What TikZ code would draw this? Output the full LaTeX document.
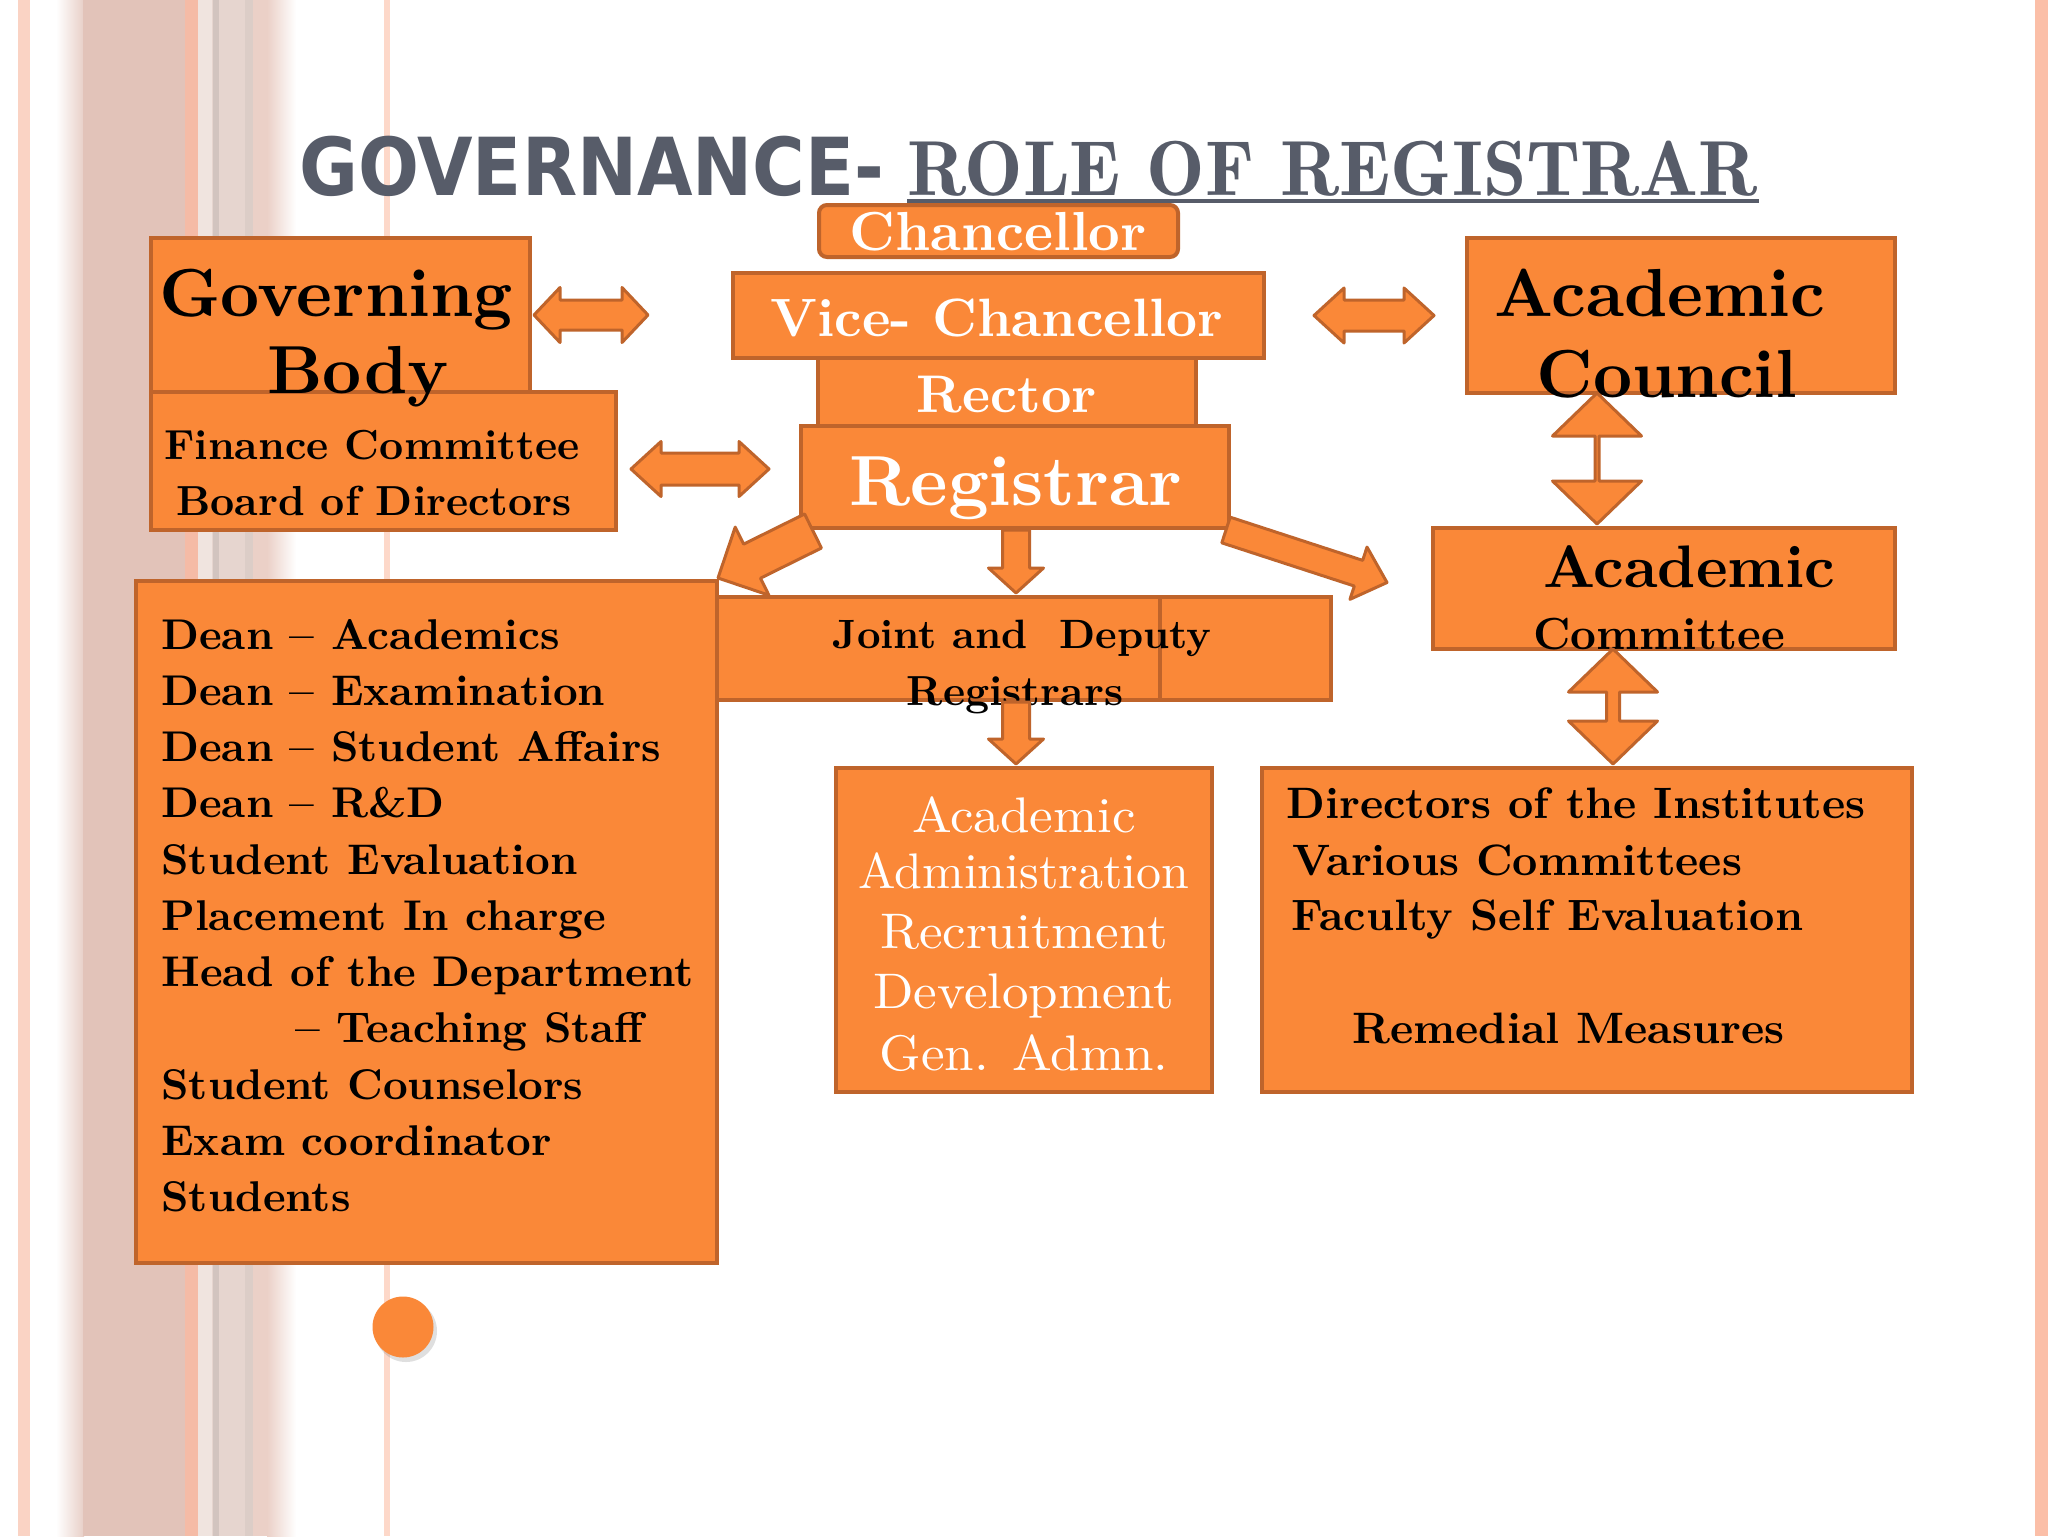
\documentclass[tikz,border=0pt]{standalone}
\usepackage{fontspec}
\usepackage{graphicx}
\usetikzlibrary{calc,fit}
\newfontfamily\lmr[Extension=.otf,BoldFont=lmroman10-bold]{lmroman10-regular}
\newfontfamily\lmdemi[Extension=.otf]{lmromandemi10-regular}
\newfontfamily\titlesans{DejaVu Sans}
\definecolor{org}{HTML}{FA8838}
\definecolor{orgd}{HTML}{BF642B}
\definecolor{ttl}{HTML}{575C69}
\definecolor{bgA}{HTML}{FAD3C4}
\definecolor{bgB}{HTML}{E2C3B9}
\definecolor{bgC}{HTML}{F5BBA6}
\definecolor{bgD}{HTML}{F0E4DF}
\definecolor{bgE}{HTML}{E6D5CF}
\definecolor{bgF}{HTML}{EBD0C7}
\definecolor{bgG}{HTML}{FDD8C9}
\definecolor{bgH}{HTML}{FBBFA8}
\newcommand\setfs[1]{\fontsize{#1}{#1}\selectfont}
\tikzset{
  box/.style={draw=orgd, fill=org, line width=2pt, inner sep=0pt},
  bt/.style={inner sep=0pt, anchor=base, font={\lmr\bfseries\setfs{#1}}},
  btl/.style={inner sep=0pt, anchor=base west, font={\lmr\bfseries\setfs{#1}}},
  wt/.style={inner sep=0pt, anchor=base, text=white, font={\lmr\bfseries\setfs{#1}}},
  rt/.style={inner sep=0pt, anchor=base, text=white, font={\lmr\setfs{#1}}},
  blk/.style={fill=org, draw=orgd, line width=1.5pt, line join=round},
}
% single block arrow: from #1 to #2, shaft half #3, head half #4, head length #5
\newcommand\sarrow[5]{%
  \coordinate (hbA) at ($(#2)!#5!(#1)$);
  \draw[blk] ($(#1)!#3!90:(#2)$) -- ($(hbA)!#3!90:(#2)$) -- ($(hbA)!#4!90:(#2)$) -- (#2)
    -- ($(hbA)!#4!-90:(#2)$) -- ($(hbA)!#3!-90:(#2)$) -- ($(#1)!#3!-90:(#2)$) -- cycle;
}
% double block arrow
\newcommand\darrow[5]{%
  \coordinate (hbA) at ($(#1)!#5!(#2)$);
  \coordinate (hbB) at ($(#2)!#5!(#1)$);
  \draw[blk] (#1) -- ($(hbA)!#4!90:(#2)$) -- ($(hbA)!#3!90:(#2)$) -- ($(hbB)!#3!-90:(#1)$)
    -- ($(hbB)!#4!-90:(#1)$) -- (#2) -- ($(hbB)!#4!90:(#1)$) -- ($(hbB)!#3!90:(#1)$)
    -- ($(hbA)!#3!-90:(#2)$) -- ($(hbA)!#4!-90:(#2)$) -- cycle;
}
\begin{document}
\begin{tikzpicture}[x=0.5pt,y=-0.5pt]
\useasboundingbox (0,0) rectangle (2048,1536);
% background
\fill[white] (0,0) rectangle (2048,1536);
\fill[bgA] (18,0) rectangle (30,1536);
\shade[left color=white, right color=bgB!80] (56,0) rectangle (84,1536);
\fill[bgB] (83,0) rectangle (186,1536);
\fill[bgC] (185,0) rectangle (199,1536);
\fill[bgD] (198,0) rectangle (213,1536);
\fill[bgE] (212,0) rectangle (254,1536);
\fill[bgE!80!gray] (213,0) rectangle (219,1536);
\fill[bgE!90!gray] (245,0) rectangle (253,1536);
\fill[bgF] (253,0) rectangle (268,1536);
\shade[left color=bgF, right color=white] (267,0) rectangle (296,1536);
\fill[bgG] (384,0) rectangle (390,1536);
\fill[bgH] (2035,0) rectangle (2048,1536);

% title
\node[inner sep=0pt, anchor=base west, text=ttl, font={\titlesans\bfseries\setfs{40}}] (title1) at (299,195) {\scalebox{0.897}[1]{GOVERNANCE-}};
\node[inner sep=0pt, anchor=base west, text=ttl, font={\lmdemi\setfs{39}}] (title2) at (907,195) {ROLE OF REGISTRAR};
\draw[ttl, line width=1.75pt] ($(title2.base west)+(0,6)$) -- ($(title2.base east)+(0,6)$);

% boxes
\node[box, fit={(151,238) (530,392)}] (gov) {};
\node[box, fit={(151,392) (616,530)}] (fin) {};
\node[box, rounded corners=4pt, fit={(819,205) (1178,257)}] (chan) {};
\node[box, fit={(733,273) (1264,358)}] (vc) {};
\node[box, fit={(818,358) (1196,426)}] (rect) {};
\node[box, fit={(801,426) (1229,528)}] (reg) {};
\node[box, fit={(1467,238) (1895,393)}] (council) {};
\node[box, fit={(1433,528) (1895,649)}] (comm) {};
\node[box, fit={(136,581) (717,1263)}] (list) {};
\node[box, fit={(1160,597) (1331,700)}] (jointx) {};
\node[box, fit={(717,597) (1160,700)}] (joint) {};
\node[box, fit={(836,768) (1212,1092)}] (admin) {};
\node[box, fit={(1262,768) (1912,1092)}] (dirs) {};

% dot
\fill[gray, opacity=0.25] (406,1331) circle (31);
\node[circle, fill=org, inner sep=0pt, minimum size=30.5pt] (dot) at (403,1327) {};

% texts
\node[bt=34] (gov1) at (336,316) {Governing};
\node[bt=34] (gov2) at (358,393) {Body};
\node[bt=34] (cou1) at (1660,316) {Academic};
\node[bt=34] (cou2) at (1667,397) {Council};
\node[wt=27.5] (chant) at (998,250) {Chancellor};
\node[wt=27] (vct) at (997,336) {Vice- Chancellor};
\node[wt=26.5] (rectt) at (1007,412) {Rector};
\node[wt=35.5] (regt) at (1016,505) {Registrar};
\node[bt=21] (fin1) at (372,459) {Finance Committee};
\node[bt=21] (fin2) at (374,515) {Board of Directors};
\node[bt=20.5] (jt1) at (1022,648) {Joint and~ Deputy};
\node[bt=21] (jt2) at (1015,705) {Registrars};
\node[bt=30] (com1) at (1689,587) {Academic};
\node[bt=22.5] (com2) at (1659,649) {Committee};

\node[rt=25] (ad1) at (1024,832) {\scalebox{1.06}[1]{Academic}};
\node[rt=25] (ad2) at (1024,888) {\scalebox{1.0}[1]{Administration}};
\node[rt=25] (ad3) at (1024,948) {\scalebox{1.06}[1]{Recruitment}};
\node[rt=25] (ad4) at (1024,1008) {\scalebox{1.06}[1]{Development}};
\node[rt=25] (ad5) at (1024,1070) {\scalebox{1.06}[1]{Gen. Admn.}};

\node[btl=22] (dr1) at (1286,818) {Directors of the Institutes};
\node[btl=22] (dr2) at (1292,875) {Various Committees};
\node[btl=22] (dr3) at (1291,930) {Faculty Self Evaluation};
\node[btl=22] (dr4) at (1352,1043) {Remedial Measures};

\node[btl=21.5] (l1) at (161,649) {Dean – Academics};
\node[btl=21.5] (l2) at (161,705) {Dean – Examination};
\node[btl=21.5] (l3) at (161,761) {Dean – Student Affairs};
\node[btl=21.5] (l4) at (161,817) {Dean – R\&D};
\node[btl=21.5] (l5) at (161,874) {Student Evaluation};
\node[btl=21.5] (l6) at (161,930) {Placement In charge};
\node[btl=21.5] (l7) at (161,986) {Head of the Department};
\node[btl=21.5] (l8) at (295,1042) {– Teaching Staff};
\node[btl=21.5] (l9) at (161,1099) {Student Counselors};
\node[btl=21.5] (l10) at (161,1155) {Exam coordinator};
\node[btl=21.5] (l11) at (161,1211) {Students};

% arrow end points
\coordinate (aA1) at ($(gov.east)+(2,0)$);
\coordinate (aA2) at ($(vc.west |- gov.east)+(-83,0)$);
\coordinate (aB1) at ($(fin.east)+(13,8)$);
\coordinate (aB2) at ($(reg.west)+(-30,-8)$);
\coordinate (aC1) at ($(vc.east |- council.west)+(48,0)$);
\coordinate (aC2) at ($(council.west)+(-31,0)$);
\coordinate (aD1) at ($(council.south)+(-84,-2)$);
\coordinate (aD2) at ($(comm.north)+(-67,-2)$);
\coordinate (aE1) at ($(comm.south)+(-51,-2)$);
\coordinate (aE2) at ($(dirs.north)+(26,-2)$);
\coordinate (aF1) at ($(reg.south)+(1,0)$);
\coordinate (aF2) at ($(joint.north -| aF1)+(0,-2)$);
\coordinate (aG1) at ($(joint.south -| aF1)$);
\coordinate (aG2) at ($(admin.north -| aF1)+(0,-2)$);
\coordinate (aH1) at ($(reg.south west)+(14,1)$);
\coordinate (aH2) at ($(list.north east)+(-1,-1)$);
\coordinate (aI1) at ($(reg.south east)+(-5,0)$);
\coordinate (aI2) at ($(comm.west)+(-44,-6)$);

% arrows
\darrow{aA1}{aA2}{7.5pt}{13.75pt}{13pt}
\darrow{aB1}{aB2}{8pt}{13.75pt}{15pt}
\darrow{aC1}{aC2}{7.75pt}{13.75pt}{15pt}
\darrow{aD1}{aD2}{1pt}{22.25pt}{21.5pt}
\darrow{aE1}{aE2}{3.25pt}{22.25pt}{21.5pt}
\sarrow{aF1}{aF2}{6.75pt}{13.75pt}{12.5pt}
\sarrow{aG1}{aG2}{6.75pt}{13.75pt}{12.5pt}
\sarrow{aH1}{aH2}{9.5pt}{19pt}{19pt}
\sarrow{aI1}{aI2}{6.75pt}{13.75pt}{15pt}
\end{tikzpicture}
\end{document}
